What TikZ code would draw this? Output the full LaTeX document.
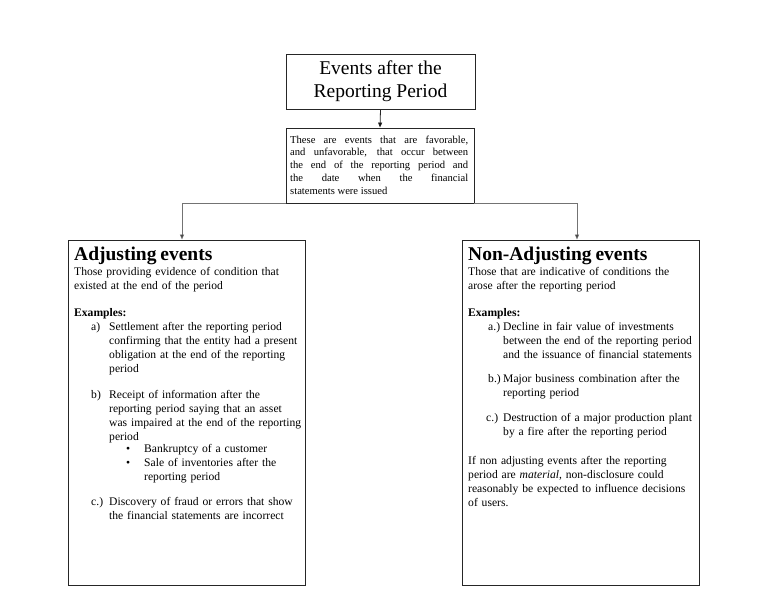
\documentclass[tikz,border=0pt]{standalone}
\usepackage{fontspec}
\setmainfont{Liberation Serif}
\usetikzlibrary{arrows.meta}
\newcommand{\itm}[4]{\par\noindent\hspace*{#1}\makebox[#2][l]{#3}\parbox[t]{#4}}
\tikzset{
  boxstyle/.style={draw=black!85, line width=0.9pt, inner sep=0pt},
  conn/.style={line width=0.8pt, draw=black!55, -{Triangle[length=5pt,width=4pt,fill=black]}},
  bodytext/.style={anchor=north west, inner sep=0pt, text width=228pt, align=left,
     font=\fontsize{11.6}{14}\selectfont},
}
\begin{document}
\begin{tikzpicture}[x=1pt,y=-1pt]
\useasboundingbox (0,0) rectangle (768,594);
\fill[white] (0,0) rectangle (768,594);
% title
\node[boxstyle, minimum width=189pt, minimum height=55pt, align=center,
  font=\fontsize{19.5}{23}\selectfont] (title) at (380.5,81.5) {Events after the\\Reporting Period};
% description
\node[boxstyle, minimum width=188pt, minimum height=75pt] (desc) at (380,165.5) {};
\node[anchor=north west, inner sep=0pt, text width=178pt, align=justify,
  font=\fontsize{10.6}{12.8}\selectfont] (desctext) at (290,135.5)
  {\hyphenpenalty=10000 These are events that are favorable,\linebreak and unfavorable, that occur between\linebreak the end of the reporting period and\linebreak the date when the financial\linebreak statements were issued};
% boxes
\node[boxstyle, minimum width=237pt, minimum height=345pt] (left) at (186.5,412.5) {};
\node[boxstyle, minimum width=237pt, minimum height=345pt] (right) at (580.5,412.5) {};
% connectors
\draw[conn, draw=black!85] (title.south) -- (desc.north);
\draw[conn] (desc.south west) -| ([xshift=-4.5pt]left.north);
\draw[conn] (desc.south east) -| ([xshift=-3.5pt]right.north);
% left text
\node[bodytext] (lefttext) at (74,247) {%
{\fontsize{19.5}{18}\selectfont\bfseries Adjusting events}\par
\vspace{1pt}%
\raggedright Those providing evidence of condition that\\ existed at the end of the period\par
\vspace{13pt}\noindent\textbf{Examples:}%
\itm{17pt}{18pt}{a)}{200pt}{\raggedright Settlement after the reporting period\\ confirming that the entity had a present\\ obligation at the end of the reporting\\ period}\par
\vspace{14pt}%
\itm{17pt}{18pt}{b)}{200pt}{\raggedright Receipt of information after the\\ reporting period saying that an asset\\ was impaired at the end of the reporting\\ period}\par
\itm{52pt}{18pt}{\textbullet}{160pt}{\raggedright Bankruptcy of a customer}\par
\itm{52pt}{18pt}{\textbullet}{160pt}{\raggedright Sale of inventories after the\\ reporting period}\par
\vspace{14pt}%
\itm{17pt}{18pt}{c.)}{200pt}{\raggedright Discovery of fraud or errors that show\\ the financial statements are incorrect}\par
};
% right text
\node[bodytext] (righttext) at (468,247) {%
{\fontsize{19.5}{18}\selectfont\bfseries Non-Adjusting events}\par
\vspace{1pt}%
\raggedright Those that are indicative of conditions the\\ arose after the reporting period\par
\vspace{13pt}\noindent\textbf{Examples:}%
\itm{20pt}{15pt}{a.)}{200pt}{\raggedright Decline in fair value of investments\\ between the end of the reporting period\\ and the issuance of financial statements}\par
\vspace{14.5pt}%
\itm{20pt}{15pt}{b.)}{200pt}{\raggedright Major business combination after the\\ reporting period}\par
\vspace{13pt}%
\itm{18pt}{17pt}{c.)}{200pt}{\raggedright Destruction of a major production plant\\ by a fire after the reporting period}\par
\vspace{18pt}%
\noindent If non adjusting events after the reporting\\ period are \textit{material}, non-disclosure could\\ reasonably be expected to influence decisions\\ of users.\par
};
\end{tikzpicture}
\end{document}
